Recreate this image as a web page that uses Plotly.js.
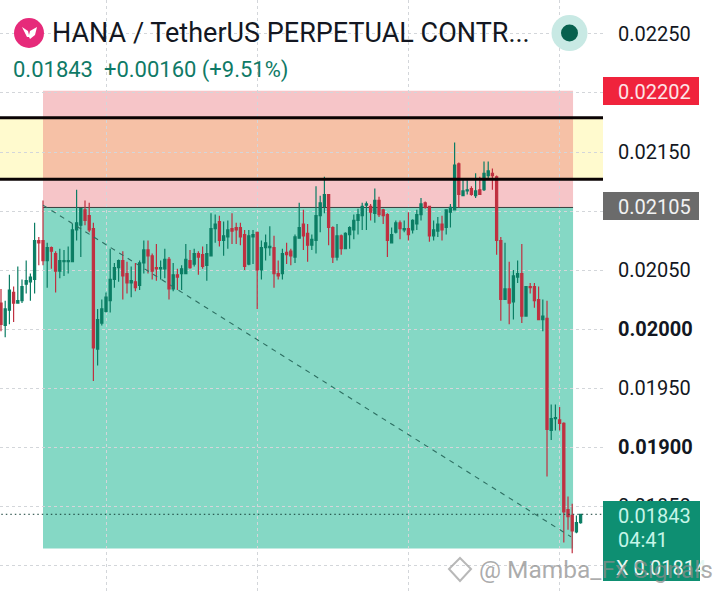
<!DOCTYPE html>
<html><head><meta charset="utf-8">
<script src="https://cdn.plot.ly/plotly-3.0.1.min.js"></script>
<style>html,body{margin:0;padding:0;background:#fff}#c{width:720px;height:593px}</style></head>
<body><div id="c"></div>
<script>
const titleText = "HANA / TetherUS PERPETUAL CONTR...";
const quoteText = "0.01843\u00a0\u00a0+0.00160 (+9.51%)";
const tickValues = [0.0225,0.022,0.0215,0.021,0.0205,0.02,0.0195,0.019,0.0185,0.018];
const tickLabels = ["0.02250","","0.02150","","0.02050","<b>0.02000</b>","0.01950","<b>0.01900</b>","0.01850",""];
const timeGrid = [25,61,97,133];
const openT = [2022,2003,2016,2031,2022,2024,2038,2040,2042,2075,2075,2058,2069,2064,2049,2057,2057,2057,2084,2088,
2101,2096,2085,1983,2005,2015,2024,2042,2052,2058,2047,2039,2040,2037,2056,2067,2062,2052,2051,2051,
2059,2034,2046,2047,2047,2058,2055,2064,2063,2054,2062,2085,2091,2075,2078,2085,2086,2086,2080,2055,
2078,2082,2050,2069,2069,2069,2047,2047,2065,2066,2061,2077,2089,2081,2071,2075,2096,2104,2114,2086,
2061,2079,2068,2080,2084,2092,2096,2105,2104,2098,2109,2101,2097,2073,2082,2090,2084,2085,2084,2089,
2097,2107,2104,2079,2083,2089,2086,2099,2101,2140,2113,2117,2119,2113,2118,2118,2130,2132,2129,2075,
2025,2034,2023,2044,2047,2011,2036,2036,2025,2008,2009,1914,1924,1923,1920,1847,1842,1828,1836];
const highT = [2034,2024,2046,2036,2053,2042,2058,2047,2090,2078,2109,2073,2070,2066,2068,2067,2070,2089,2118,2102,
2109,2107,2090,2017,2025,2031,2068,2056,2059,2066,2057,2053,2056,2058,2075,2075,2064,2072,2058,2068,
2061,2056,2051,2054,2072,2067,2068,2066,2070,2072,2098,2097,2096,2091,2092,2098,2090,2090,2084,2084,
2084,2082,2075,2080,2087,2079,2058,2068,2073,2068,2080,2107,2101,2089,2080,2121,2113,2129,2114,2087,
2089,2080,2082,2087,2097,2102,2107,2108,2106,2119,2112,2102,2098,2086,2092,2092,2092,2099,2093,2101,
2111,2108,2104,2092,2095,2096,2101,2106,2158,2141,2128,2126,2121,2132,2129,2142,2142,2136,2130,2078,
2073,2057,2050,2058,2072,2036,2039,2039,2036,2025,2024,1936,1936,1934,1921,1858,1852,1842,1843];
const lowT = [1998,1993,2004,2006,2022,2022,2030,2024,2030,2054,2054,2035,2051,2031,2043,2045,2047,2057,2075,2061,
2088,2082,1956,1969,2003,2014,2014,2035,2040,2025,2030,2027,2032,2033,2047,2047,2042,2041,2042,2043,
2025,2032,2033,2033,2047,2051,2053,2046,2051,2041,2062,2073,2070,2062,2068,2072,2072,2071,2050,2054,
2055,2017,2042,2058,2062,2035,2042,2042,2055,2054,2056,2077,2067,2057,2067,2064,2082,2098,2071,2056,
2058,2063,2068,2068,2076,2080,2084,2084,2092,2090,2095,2089,2061,2073,2081,2076,2082,2075,2081,2084,
2092,2102,2074,2075,2078,2075,2080,2086,2101,2103,2113,2114,2113,2111,2114,2117,2128,2118,2063,2007,
2025,2004,2008,2039,2005,2011,2030,2018,2008,1998,1875,1906,1914,1914,1819,1830,1810,1827,1835];
const closeT = [2004,2017,2033,2022,2024,2036,2041,2044,2075,2073,2058,2069,2066,2049,2058,2058,2058,2084,2090,2102,
2092,2084,1984,2008,2017,2027,2042,2052,2058,2045,2039,2041,2035,2056,2067,2062,2049,2051,2052,2059,
2034,2046,2044,2051,2059,2052,2064,2061,2053,2064,2085,2089,2075,2079,2084,2083,2084,2078,2053,2079,
2080,2050,2069,2073,2070,2047,2045,2064,2063,2062,2078,2086,2079,2071,2076,2096,2107,2114,2086,2061,
2079,2068,2081,2086,2092,2097,2104,2106,2099,2109,2097,2096,2075,2080,2090,2085,2085,2080,2092,2097,
2106,2103,2079,2084,2089,2084,2101,2103,2139,2114,2117,2118,2114,2117,2114,2132,2134,2130,2075,2025,
2034,2022,2045,2047,2011,2036,2035,2024,2008,2011,1915,1924,1925,1920,1845,1841,1829,1836,1843];
const opens = openT.map(v=>v/100000), highs = highT.map(v=>v/100000), lows = lowT.map(v=>v/100000), closes = closeT.map(v=>v/100000);
const xs = opens.map((_,i)=>i);
const lastPrice = 0.01843;
const zoneTop = 0.02202, zoneEntry = 0.02103, zoneBottom = 0.01814;
const bandTop = 0.02179, bandBottom = 0.02127;
const zoneStart = 10, zoneEnd = 136.2;
const diagX = [10,135.7], diagY = [0.02105,0.01824];
const tailX = [127.2,135.7], tailY = [0.01810,0.01815];

const W=603,H=593;
const px=x=>x/W, py=y=>1-y/H;
const pr=(x0,y0,x1,y1,fill,extra)=>Object.assign({type:'rect',xref:'paper',yref:'paper',x0:px(x0),x1:px(x1),y0:py(y0),y1:py(y1),fillcolor:fill,line:{width:0},layer:'above'},extra||{});
const circ=(cx,cy,r,fill)=>({type:'circle',xref:'paper',yref:'paper',x0:px(cx-r),x1:px(cx+r),y0:py(cy-r),y1:py(cy+r),fillcolor:fill,line:{width:0},layer:'above'});
const ptsPath=(p)=>'M'+p.map(q=>px(q[0])+','+py(q[1])).join(' L')+' Z';
const note=(x,y,text,size,color,anchor,extra)=>Object.assign({xref:'paper',yref:'paper',x:px(x),y:py(y),text:text,showarrow:false,xanchor:anchor||'left',yanchor:'middle',font:{family:'Roboto, sans-serif',size:size,color:color},borderpad:0,borderwidth:0},extra||{});

const traces=[
 {type:'scatter',mode:'lines',x:diagX,y:diagY,line:{color:'#2e6f62',width:1.1,dash:'5px,5px'},hoverinfo:'skip'},
 {type:'candlestick',x:xs,open:opens,high:highs,low:lows,close:closes,whiskerwidth:0,
  increasing:{line:{color:'#0b7d64',width:1.2},fillcolor:'#0b7d64'},
  decreasing:{line:{color:'#bf3040',width:1.2},fillcolor:'#bf3040'},hoverinfo:'skip'},
 {type:'scatter',mode:'lines',x:[-1,145],y:[lastPrice,lastPrice],line:{color:'#123d35',width:1,dash:'1.5px,3px'},hoverinfo:'skip'}
];
const layout={
 width:720,height:593,margin:{l:0,r:117,t:0,b:0},paper_bgcolor:'#fff',plot_bgcolor:'#fff',showlegend:false,boxgap:0.28,
 font:{family:'Roboto, sans-serif'},
 xaxis:{type:'linear',range:[-0.238,143.33],rangeslider:{visible:false},tickmode:'array',tickvals:timeGrid,showticklabels:false,ticks:'',showgrid:true,gridcolor:'#d3d6da',griddash:'dot',gridwidth:1,zeroline:false,showline:false},
 yaxis:{side:'right',range:[0.017763,0.022788],tickmode:'array',tickvals:tickValues,ticktext:tickLabels,showgrid:true,gridcolor:'#d3d6da',griddash:'dot',gridwidth:1,zeroline:false,showline:false,ticks:'outside',ticklen:10,tickcolor:'rgba(0,0,0,0)',tickfont:{family:'Roboto, sans-serif',size:20,color:'#131722'}},
 shapes:[
  {type:'rect',xref:'paper',yref:'y',x0:0,x1:1,y0:bandBottom,y1:bandTop,fillcolor:'rgba(255,235,59,0.25)',line:{width:0},layer:'below'},
  {type:'rect',xref:'x',yref:'y',x0:zoneStart,x1:zoneEnd,y0:zoneEntry,y1:zoneTop,fillcolor:'rgba(225,62,72,0.30)',line:{width:0},layer:'below'},
  {type:'rect',xref:'x',yref:'y',x0:zoneStart,x1:zoneEnd,y0:zoneBottom,y1:zoneEntry,fillcolor:'rgba(11,177,139,0.5)',line:{width:0},layer:'below'},
  {type:'line',xref:'x',yref:'y',x0:zoneStart,x1:zoneEnd,y0:zoneEntry,y1:zoneEntry,line:{color:'#38403e',width:1},layer:'below'},
  {type:'line',xref:'paper',yref:'y',x0:0,x1:1,y0:bandTop,y1:bandTop,line:{color:'#0a0303',width:3},layer:'above'},
  {type:'line',xref:'paper',yref:'y',x0:0,x1:1,y0:bandBottom,y1:bandBottom,line:{color:'#0a0303',width:3},layer:'above'},
  circ(29,33,15,'#e62a7a'),
  {type:'path',xref:'paper',yref:'paper',path:ptsPath([[22,27],[28,31],[29,35],[30,31],[37,27],[35,35],[30,39],[29,37],[27,37]]),fillcolor:'#fff',line:{width:0},layer:'above'},
  circ(569.5,33,18,'#c8e9e4'),
  circ(569.5,33,8.5,'#07604e'),
  pr(603,77,699,105,'#f0233c'),
  pr(603,192,699,220,'#6b6b6b'),
  pr(603,501,700,581,'#0e8f72'),
  {type:'path',xref:'paper',yref:'paper',path:ptsPath([[460,558],[471,569],[460,581],[449,569]]),fillcolor:'rgba(0,0,0,0)',line:{color:'rgba(160,160,160,0.75)',width:2},layer:'above'}
 ],
 annotations:[
  note(52,33,titleText,27,'#131722'),
  note(13,70,quoteText,22,'#0f7a66'),
  note(618,92,'0.02202',20,'#fde4e6'),
  note(618,207,'0.02105',20,'#f2f2f2'),
  note(618,516,'0.01843',20,'#c6f5e8'),
  note(618,540,'04:41',20,'#c6f5e8'),
  note(616,568,'X 0.01814',20,'#e6f7f2'),
  note(479,569,'@ Mamba_Fx Signals',24.5,'rgba(140,140,140,0.72)')
 ]
};
Plotly.newPlot('c',traces,layout,{staticPlot:true,displayModeBar:false});
</script></body></html>
